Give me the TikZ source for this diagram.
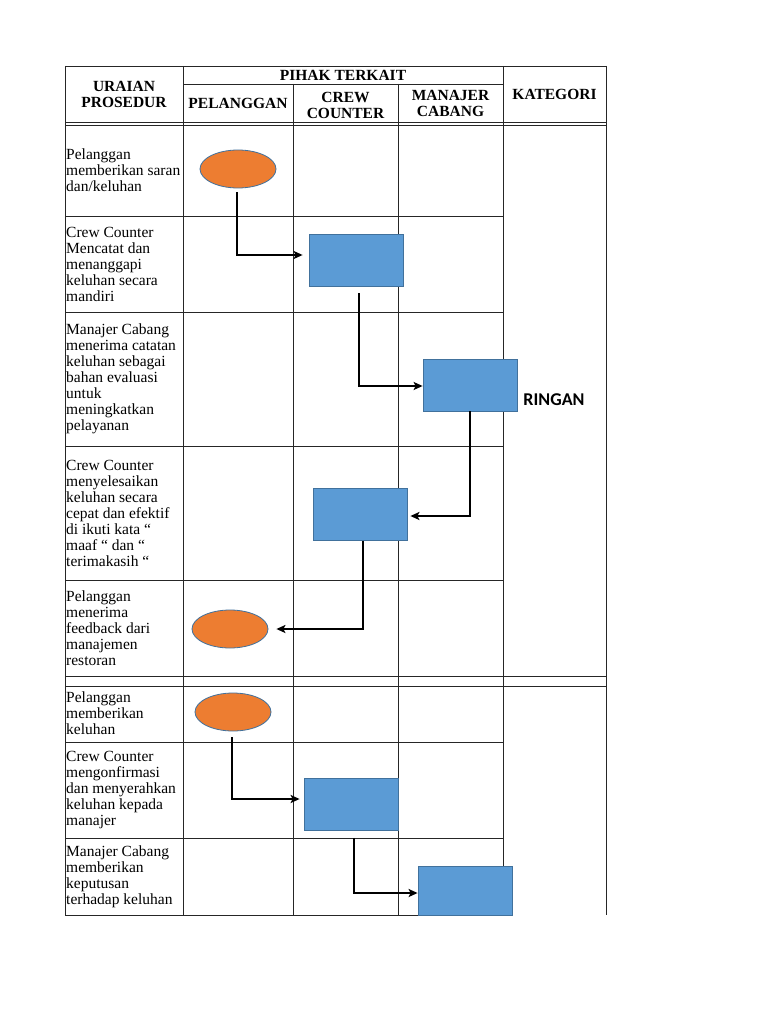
\documentclass[tikz,border=0pt]{standalone}
\usepackage{fontspec}
\setmainfont{Liberation Serif}
\newfontfamily\calib{Carlito}
\usetikzlibrary{shapes.geometric,arrows.meta,calc}
\definecolor{procblue}{HTML}{5B9BD5}
\definecolor{edgeblue}{HTML}{41719C}
\definecolor{termorange}{HTML}{ED7D31}
\begin{document}
\begin{tikzpicture}[x=1pt,y=-1pt,
  grid/.style={line width=0.9pt,black!85},
  cell/.style={anchor=west,align=left,inner sep=1pt,font=\fontsize{15.5}{16}\selectfont},
  head/.style={align=center,inner sep=1pt,font=\fontsize{15.5}{16}\selectfont\bfseries},
  proc/.style={rectangle,fill=procblue,draw=edgeblue,line width=0.8pt,minimum width=94pt,minimum height=52pt,inner sep=0pt},
  term/.style={ellipse,fill=termorange,draw=edgeblue,line width=0.8pt,minimum width=76pt,minimum height=38pt,inner sep=0pt},
  conn/.style={line width=1.7pt,-{Stealth[length=9pt,width=8pt,inset=2pt]}}
]
\useasboundingbox[fill=white] (0,0) rectangle (768,1024);

% table grid
\draw[grid] (65,66) -- (606,66);
\draw[grid] (183,84) -- (503,84);
\draw[grid] (65,122) -- (606,122);
\draw[grid] (65,125) -- (606,125);
\foreach \yy in {216,312,446,580,742,838,915} \draw[grid] (65,\yy) -- (503,\yy);
\draw[grid] (65,676) -- (606,676);
\draw[grid] (65,686) -- (606,686);
\foreach \xx in {65,183,503,606} \draw[grid] (\xx,66) -- (\xx,915);
\foreach \xx in {293,398} \draw[grid] (\xx,84) -- (\xx,915);

% header
\node[head] (h1) at (124,94) {URAIAN\\PROSEDUR};
\node[head] (h2) at (343,75) {PIHAK TERKAIT};
\node[head] (h3) at (238,103) {PELANGGAN};
\node[head] (h4) at (345.5,105) {CREW\\COUNTER};
\node[head] (h5) at (450.5,103) {MANAJER\\CABANG};
\node[head] (h6) at (554.5,94) {KATEGORI};

% procedure texts
\node[cell] (t1) at (65,170.5) {Pelanggan\\memberikan saran\\dan/keluhan};
\node[cell] (t2) at (65,264) {Crew Counter\\Mencatat dan\\menanggapi\\keluhan secara\\mandiri};
\node[cell] (t3) at (65,379) {Manajer Cabang\\menerima catatan\\keluhan sebagai\\bahan evaluasi\\untuk\\meningkatkan\\pelayanan};
\node[cell] (t4) at (65,513) {Crew Counter\\menyelesaikan\\keluhan secara\\cepat dan efektif\\di ikuti kata “\\maaf “ dan “\\terimakasih “};
\node[cell] (t5) at (65,628) {Pelanggan\\menerima\\feedback dari\\manajemen\\restoran};
\node[cell] (t6) at (65,713) {Pelanggan\\memberikan\\keluhan};
\node[cell] (t7) at (65,790) {Crew Counter\\mengonfirmasi\\dan menyerahkan\\keluhan kepada\\manajer};
\node[cell] (t8) at (65,877) {Manajer Cabang\\memberikan\\keputusan\\terhadap keluhan};

% shapes
\node[term] (e1) at (238,169) {};
\node[proc] (r1) at (356,260) {};
\node[proc] (r2) at (470,385) {};
\node[proc] (r3) at (360,514.5) {};
\node[term] (e2) at (230,629) {};
\node[term] (e3) at (233,712) {};
\node[proc] (r4) at (351,804.5) {};
\node[proc,minimum height=49pt] (r5) at (465,891) {};

\node[inner sep=0pt,font=\calib\fontsize{18}{19}\selectfont\bfseries] (k1) at (554,400) {RINGAN};

% connectors
\draw[conn] ($(e1.south)+(-1,4)$) |- ($(r1.west)+(-6,-5)$);
\draw[conn] ($(r1.south)+(3,7)$) |- ($(r2.west)+(0,1)$);
\draw[conn] (r2.south) |- ($(r3.east)+(3,1.5)$);
\draw[conn] ($(r3.south)+(3,0)$) |- ($(e2.east)+(8,0)$);
\draw[conn] ($(e3.south)+(-1,6)$) |- ($(r4.west)+(-4,-5.5)$);
\draw[conn] ($(r4.south)+(3,7)$) |- ($(r5.west)+(0,2)$);
\end{tikzpicture}
\end{document}
